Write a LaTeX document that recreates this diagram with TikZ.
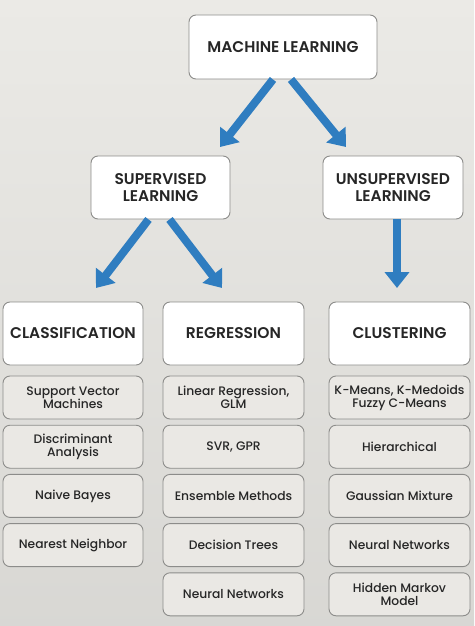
\documentclass[tikz,border=0pt]{standalone}
\usepackage{fontspec}
\setmainfont{Poppins}
\newfontfamily\headfont{Poppins SemiBold}
\newfontfamily\itemfont{Poppins Medium}
\usetikzlibrary{arrows.meta}
\definecolor{mlblue}{HTML}{2F7DC0}
\definecolor{mlback}{HTML}{EBEAE6}
\definecolor{mlitem}{HTML}{EAE8E4}
\definecolor{mlline}{HTML}{8C8C8A}
\tikzset{
	headbox/.style={draw=mlline, line width=0.9pt, fill=white, rounded corners=7pt,
		align=center, font=\headfont\fontsize{15.5}{17}\selectfont, text=black!85},
	itembox/.style={draw=mlline, line width=0.9pt, fill=mlitem, rounded corners=7pt,
		minimum width=140pt, minimum height=43pt, align=center,
		font=\itemfont\fontsize{12.3}{12.8}\selectfont, text=black!85},
	bluearrow/.style={draw=mlblue, line width=8pt,
		-{Triangle[length=16pt,width=24pt]}}
}
\begin{document}
\begin{tikzpicture}[x=1pt,y=-1pt]
	% background
	\shade[top color=mlback, bottom color=mlback!92!black] (0,0) rectangle (474,626);
	\useasboundingbox (0,0) rectangle (474,626);
	% top levels
	\node[headbox, minimum width=188pt, minimum height=64pt] (ml) at (283,47) {MACHINE LEARNING};
	\node[headbox, minimum width=139pt, minimum height=63pt] (sup) at (160.5,187.5) {SUPERVISED\\LEARNING};
	\node[headbox, minimum width=140pt, minimum height=63pt] (unsup) at (393,187.5) {UNSUPERVISED\\LEARNING};
	% categories
	\node[headbox, minimum width=140pt, minimum height=63pt] (class) at (73,333.5) {CLASSIFICATION};
	\node[headbox, minimum width=141pt, minimum height=63pt] (regr) at (233.5,333.5) {REGRESSION};
	\node[headbox, minimum width=141pt, minimum height=63pt] (clust) at (399.5,333.5) {CLUSTERING};
	% methods
	\foreach \name/\txt [count=\i] in {c1/{Support Vector\\Machines}, c2/{Discriminant\\Analysis}, c3/Naive Bayes, c4/Nearest Neighbor}
		\node[itembox] (\name) at (73,{397.5+(\i-1)*49.2}) {\txt};
	\foreach \name/\txt [count=\i] in {r1/{Linear Regression,\\GLM}, r2/{SVR, GPR}, r3/Ensemble Methods, r4/Decision Trees, r5/Neural Networks}
		\node[itembox, minimum width=141pt] (\name) at (233.5,{397.5+(\i-1)*49.2}) {\txt};
	\foreach \name/\txt [count=\i] in {k1/{K-Means, K-Medoids\\Fuzzy C-Means}, k2/Hierarchical, k3/Gaussian Mixture, k4/Neural Networks, k5/{Hidden Markov\\Model}}
		\node[itembox, minimum width=141pt] (\name) at (399.5,{397.5+(\i-1)*49.2}) {\txt};
	% arrows
	\coordinate (supend) at (220,147);
	\coordinate (unsupend) at (346,147);
	\coordinate (classend) at (96,288);
	\coordinate (regrend) at (222,288);
	\coordinate (clustend) at (397,288);
	\draw[bluearrow] ([xshift=-10pt]ml.south) -- (supend);
	\draw[bluearrow] ([xshift=8pt]ml.south) -- (unsupend);
	\draw[bluearrow] ([xshift=-12pt]sup.south) -- (classend);
	\draw[bluearrow] ([xshift=9pt]sup.south) -- (regrend);
	\draw[bluearrow] (unsup.south -| clustend) -- (clustend);
\end{tikzpicture}
\end{document}
